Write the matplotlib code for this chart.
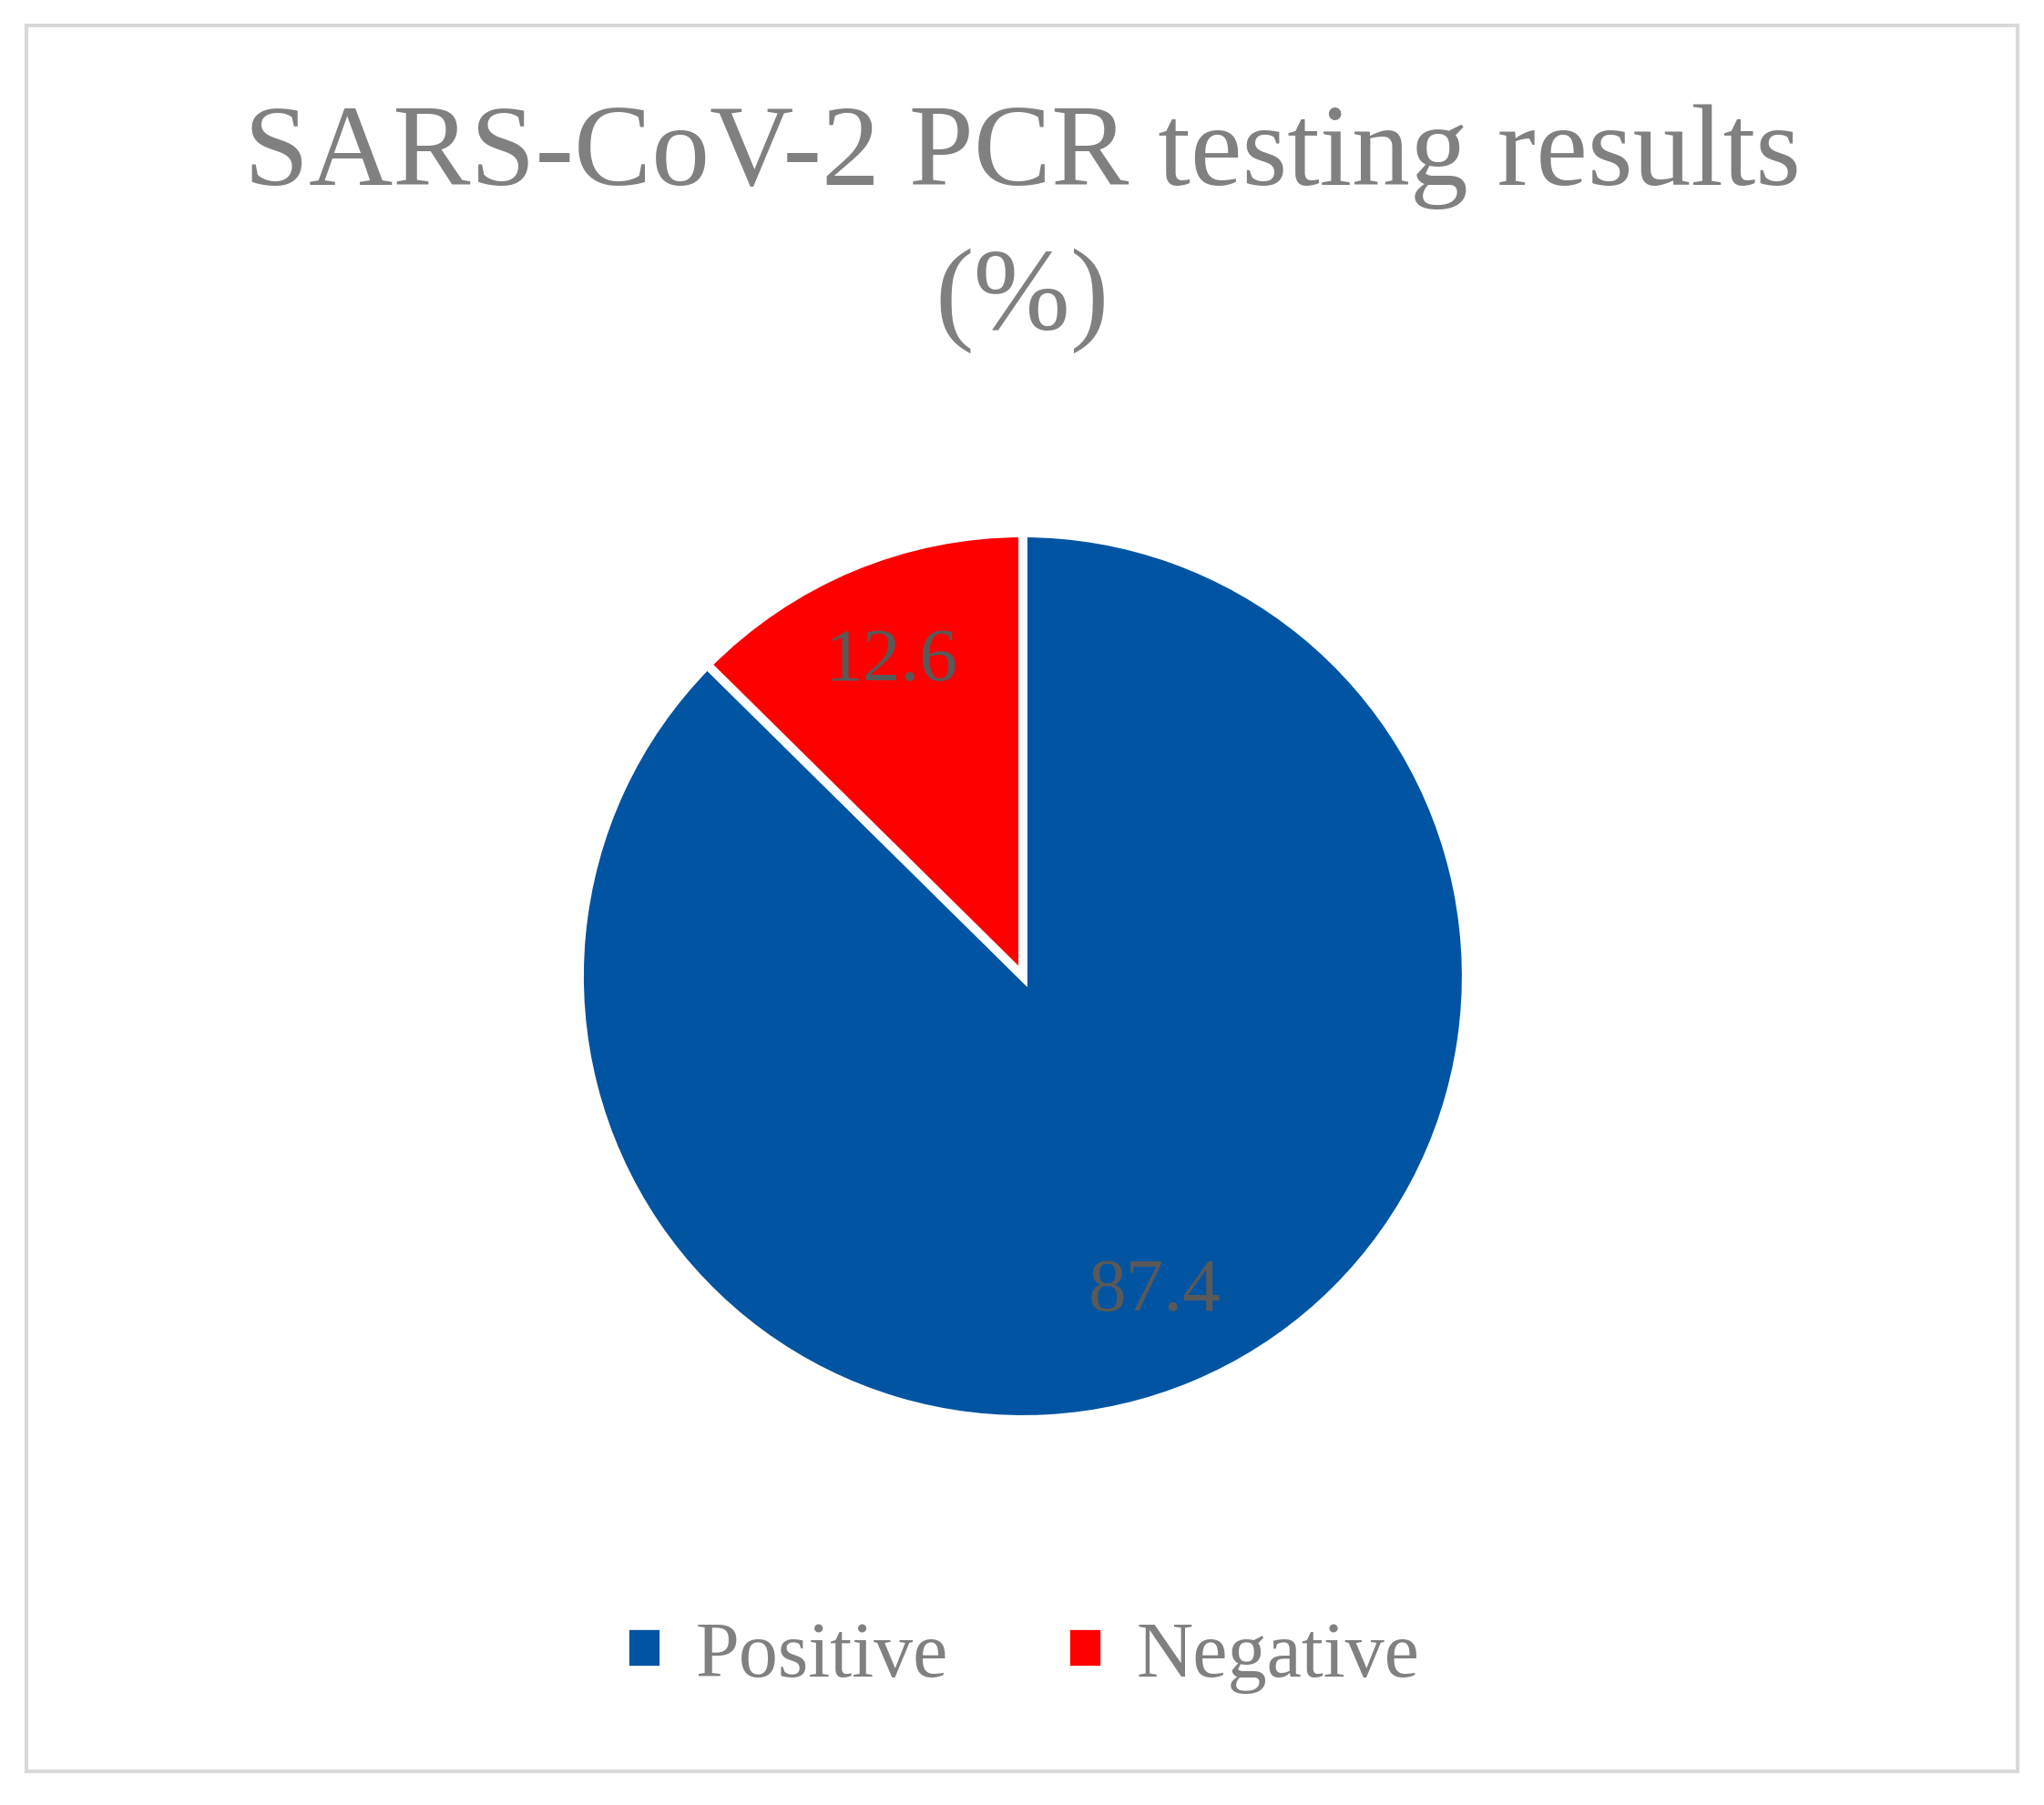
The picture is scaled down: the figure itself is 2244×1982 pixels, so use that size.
import matplotlib
matplotlib.use("Agg")
import matplotlib.pyplot as plt
from matplotlib.patches import Rectangle

categories = ["Positive", "Negative"]
values = [87.4, 12.6]
colors = ["#0054a2", "#ff0000"]

plt.rcParams['font.family'] = ['Liberation Serif', 'DejaVu Serif']
fig = plt.figure(figsize=(22.44, 19.83), dpi=100)
fig.patches.append(Rectangle((29/2244, 1-1946/1983), (2215-29)/2244, (1946-29)/1983,
                             transform=fig.transFigure, fill=False, edgecolor="#d9d9d9", linewidth=3))
ax = fig.add_axes([0.5004-0.217, 0.459-0.2456, 0.434, 0.491])
vals = iter(values)
wedges, texts, autotexts = ax.pie(values, colors=colors, startangle=90, counterclock=False,
       wedgeprops=dict(edgecolor="white", linewidth=7),
       autopct=lambda p: f"{next(vals)}", pctdistance=0.77,
       textprops=dict(fontsize=60, color="#595959"))
ax.set_xlim(-1, 1); ax.set_ylim(-1, 1); ax.set_aspect('equal')
fig.text(0.5, 1-172/1983, "SARS-CoV-2 PCR testing results", ha="center", va="center",
         fontsize=92, color="#808080")
fig.text(0.5, 1-330/1983, "(%)", ha="center", va="center", fontsize=92, color="#808080")
fig.legend(wedges, categories, loc="center", bbox_to_anchor=(0.5, 1-1820/1983), ncol=2,
           frameon=False, fontsize=62, labelcolor="#808080", handlelength=0.5, handleheight=0.5,
           columnspacing=1.5, handletextpad=0.4)
fig.savefig("out.png", dpi=100)
